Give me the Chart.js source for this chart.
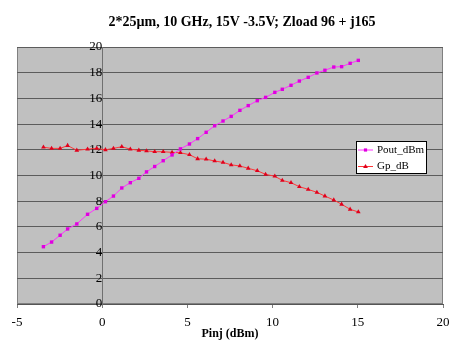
<!DOCTYPE html>
<html>
<head>
<meta charset="utf-8">
<script src="https://cdn.jsdelivr.net/npm/chart.js@4/dist/chart.umd.min.js"></script>
<style>
  html, body { margin: 0; padding: 0; background: #fff; }
  #wrap { width: 474px; height: 344px; position: relative; }
</style>
</head>
<body>
<div id="wrap"><canvas id="chart-pinj"></canvas></div>
<script>
// Pinj sweep (dBm) and the two measured series
const pinj = [-3.45, -2.97, -2.47, -2.03, -1.49, -0.86, -0.32, 0.19, 0.66, 1.15,
    1.65, 2.15, 2.6, 3.08, 3.58, 4.1, 4.59, 5.12, 5.6, 6.1,
    6.6, 7.09, 7.57, 8.08, 8.57, 9.1, 9.59, 10.13, 10.57, 11.08,
    11.57, 12.09, 12.6, 13.07, 13.59, 14.05, 14.55, 15.03];
const poutDbm = [4.46, 4.82, 5.35, 5.84, 6.23, 6.98, 7.44, 7.96, 8.4, 9.03,
    9.44, 9.78, 10.28, 10.7, 11.15, 11.6, 12.07, 12.45, 12.87, 13.36,
    13.87, 14.24, 14.6, 15.07, 15.44, 15.82, 16.08, 16.47, 16.71, 17.02,
    17.35, 17.64, 17.98, 18.19, 18.44, 18.47, 18.73, 18.96];
const gpDb = [12.2, 12.11, 12.11, 12.33, 11.96, 12.05, 12.11, 12.0, 12.11, 12.24,
    12.05, 11.96, 11.92, 11.85, 11.85, 11.8, 11.77, 11.62, 11.3, 11.27,
    11.13, 11.02, 10.83, 10.74, 10.56, 10.37, 10.09, 9.94, 9.62, 9.44,
    9.13, 8.92, 8.69, 8.4, 8.09, 7.76, 7.37, 7.16];
const seriesNames = ['Pout_dBm', 'Gp_dB'];
const xTicks = [-5, 0, 5, 10, 15, 20];
const yTicks = [0, 2, 4, 6, 8, 10, 12, 14, 16, 18, 20];
const chartTitle = '2*25µm, 10 GHz, 15V -3.5V; Zload 96 + j165';

const SERIF = "'Liberation Serif', 'Times New Roman', serif";
Chart.defaults.font.family = SERIF;
Chart.defaults.color = '#000';

// gray plot area with thin border, like the spreadsheet default
const plotBackground = {
    id: 'plotBackground',
    beforeDraw(chart) {
        const { ctx, chartArea: a } = chart;
        ctx.save();
        ctx.fillStyle = '#c0c0c0';
        ctx.fillRect(a.left, a.top, a.right - a.left, a.bottom - a.top);
        ctx.strokeStyle = '#808080';
        ctx.lineWidth = 1;
        ctx.strokeRect(a.left + 0.5, a.top + 0.5, a.right - a.left - 1, a.bottom - a.top - 1);
        ctx.restore();
    }
};

const headTitle = {
    id: 'headTitle',
    afterDraw(chart) {
        const ctx = chart.ctx;
        ctx.save();
        ctx.font = 'bold 14px ' + SERIF;
        ctx.fillStyle = '#000';
        ctx.textAlign = 'center';
        ctx.textBaseline = 'middle';
        ctx.fillText(chartTitle, 242, 22);
        ctx.restore();
    }
};

function drawMarker(ctx, style, x, y, color) {
    ctx.fillStyle = color;
    ctx.beginPath();
    if (style === 'triangle') {
        ctx.moveTo(x, y - 2.6);
        ctx.lineTo(x + 2.4, y + 1.6);
        ctx.lineTo(x - 2.4, y + 1.6);
        ctx.closePath();
    } else {
        ctx.rect(x - 1.6, y - 1.6, 3.2, 3.2);
    }
    ctx.fill();
}

// boxed legend sitting inside the plot on the right
const boxLegend = {
    id: 'boxLegend',
    afterDatasetsDraw(chart) {
        const ctx = chart.ctx;
        const bx = 356, by = 141, bw = 71, bh = 33;
        ctx.save();
        ctx.fillStyle = '#fff';
        ctx.fillRect(bx, by, bw, bh);
        ctx.strokeStyle = '#000';
        ctx.lineWidth = 1;
        ctx.strokeRect(bx + 0.5, by + 0.5, bw - 1, bh - 1);
        chart.data.datasets.forEach((ds, i) => {
            const y = by + 9 + i * 16.5;
            ctx.strokeStyle = ds.borderColor;
            ctx.lineWidth = 1;
            ctx.beginPath();
            ctx.moveTo(358, y);
            ctx.lineTo(373, y);
            ctx.stroke();
            drawMarker(ctx, ds.pointStyle, 365.5, y, ds.pointBackgroundColor);
            ctx.fillStyle = '#000';
            ctx.font = '11px ' + SERIF;
            ctx.textAlign = 'left';
            ctx.textBaseline = 'middle';
            ctx.fillText(ds.label, 377, y);
        });
        ctx.restore();
    }
};

const ctx = document.getElementById('chart-pinj').getContext('2d');
new Chart(ctx, {
    type: 'scatter',
    data: {
        datasets: [{
            label: seriesNames[0],
            data: pinj.map((x, i) => ({ x, y: poutDbm[i] })),
            showLine: true,
            borderColor: '#ff33ff',
            borderWidth: 1,
            pointStyle: 'rect',
            pointRadius: 2.4,
            pointBackgroundColor: '#e000e0',
            pointBorderColor: '#e000e0',
            pointBorderWidth: 0
        }, {
            label: seriesNames[1],
            data: pinj.map((x, i) => ({ x, y: gpDb[i] })),
            showLine: true,
            borderColor: '#ff3838',
            borderWidth: 1,
            pointStyle: 'triangle',
            pointRadius: 2.7,
            pointBackgroundColor: '#e0001c',
            pointBorderColor: '#e0001c',
            pointBorderWidth: 0
        }]
    },
    options: {
        responsive: true,
        maintainAspectRatio: false,
        animation: false,
        events: [],
        layout: { padding: { top: 47, left: 17, right: 31, bottom: 3 } },
        plugins: {
            legend: { display: false },
            tooltip: { enabled: false },
            title: { display: false }
        },
        scales: {
            x: {
                type: 'linear',
                min: xTicks[0],
                max: xTicks[xTicks.length - 1],
                afterBuildTicks: (scale) => { scale.ticks = xTicks.map(v => ({ value: v })); },
                afterFit: (scale) => { scale.height = 37; },
                grid: { drawOnChartArea: false, drawTicks: true, tickLength: 4, color: '#808080' },
                border: { color: '#555', width: 1 },
                ticks: { font: { size: 13 }, padding: 7, maxRotation: 0 },
                title: { display: true, text: 'Pinj (dBm)', font: { size: 12, weight: 'bold' }, padding: 0 }
            },
            y: {
                type: 'linear',
                position: { x: 0 },
                min: yTicks[0],
                max: yTicks[yTicks.length - 1],
                afterBuildTicks: (scale) => { scale.ticks = yTicks.map(v => ({ value: v })); },
                grid: { color: '#5c5c5c', lineWidth: 1, drawTicks: true, tickLength: 4 },
                border: { color: '#707070', width: 1 },
                ticks: { font: { size: 13 }, padding: 3 }
            }
        }
    },
    plugins: [plotBackground, headTitle, boxLegend]
});
</script>
</body>
</html>
